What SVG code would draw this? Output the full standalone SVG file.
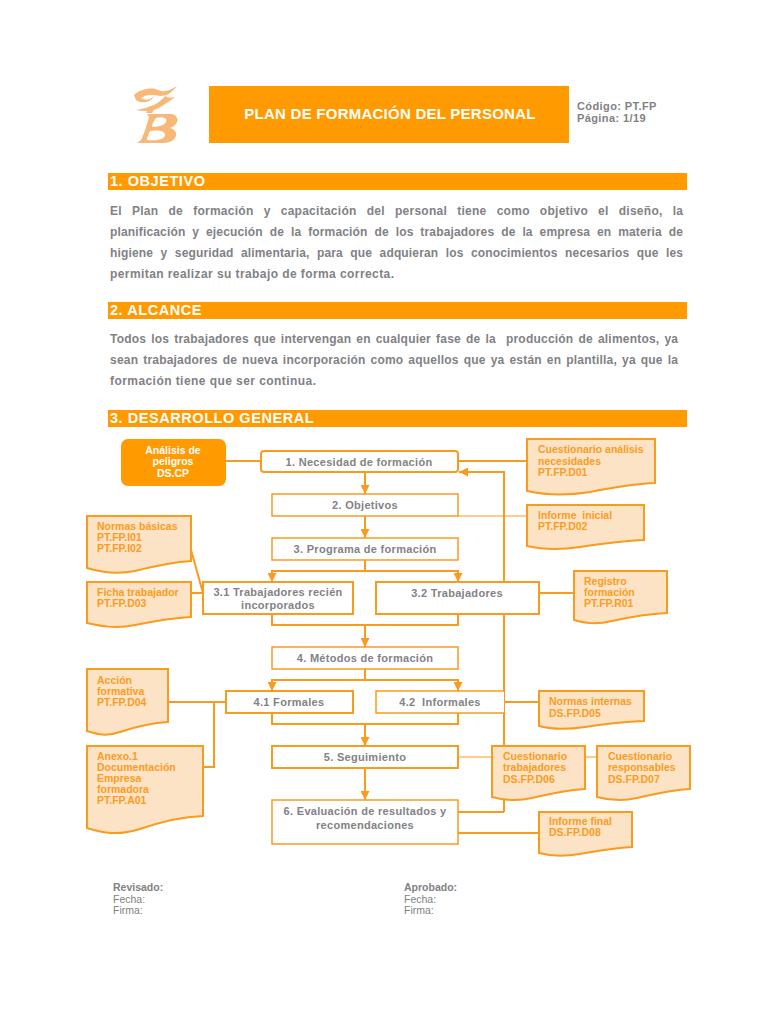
<svg xmlns="http://www.w3.org/2000/svg" width="768" height="1024" viewBox="0 0 768 1024">
<style>
text{font-family:"Liberation Sans",Arial,sans-serif;font-weight:bold}
.bar{fill:#ff9a00}
.h{fill:#fff;font-size:14.5px;letter-spacing:.55px}
.b{fill:#818184;font-size:12px}
.n{fill:#fff;stroke:#f99b1f;stroke-width:2}
.n1{fill:#fff;stroke:#f99b1f;stroke-width:1.5}
.t{fill:#828285;font-size:11px;text-anchor:middle;letter-spacing:.3px}
.d{fill:#fde3c5;stroke:#f99b1f;stroke-width:2}
.dt{fill:#fb9c22;font-size:10.5px}
.c{fill:none;stroke:#f99b1f;stroke-width:2}
.c1{fill:none;stroke:#f99b1f;stroke-width:1.2}
.f{fill:#818184;font-size:10.5px;font-weight:normal}
.logo{fill:#f7b878;fill-rule:evenodd}
</style>
<defs>
<marker id="a" markerWidth="10" markerHeight="9" refX="9" refY="4.5" orient="auto" markerUnits="userSpaceOnUse"><path d="M0 0L9 4.5L0 9Z" fill="#f99b1f"/></marker>
</defs>
<rect width="768" height="1024" fill="#fff"/>

<g id="logo">
<path class="logo" d="M134 95C140 89 152 87 158 90C165 93 170 90 177 86C172 92 168 96 160 96C150 94 145 95 141 98C146 101 150 100 154 96C150 103 142 104 136 100Z"/>
<path class="logo" d="M165 96C160 103 150 108 136 110C145 112 155 112 165 104C169 102 172 99 175 97C170 98 168 98 165 96Z"/>
<path class="logo" d="M150 106L146 113L152 113L156 106Z"/>
<path class="logo" d="M147 114H170C180 114 180 125 170 128C180 130 178 143 163 143H137L141 140C145 132 147 124 149 117ZM156 118C153 122 152 125 152 127C160 127 168 124 166 119C164 117 160 117 156 118ZM150 131C148 135 147 138 147 140C155 141 166 140 165 134C164 130 156 130 150 131Z"/>
</g>

<g id="title"><rect class="bar" x="209" y="86" width="360" height="57"/>
<text x="390" y="119" text-anchor="middle" fill="#fff" font-size="15" letter-spacing=".25">PLAN DE FORMACIÓN DEL PERSONAL</text></g>
<g id="code">
<text x="577" y="110" fill="#818184" font-size="11" letter-spacing=".4">Código: PT.FP</text>
<text x="577" y="122" fill="#818184" font-size="11" letter-spacing=".4">Página: 1/19</text></g>

<g id="s1"><rect class="bar" x="108" y="173" width="579" height="17"/><text class="h" x="110" y="186">1. OBJETIVO</text></g>
<text class="b" x="110" y="215" word-spacing="6.5" textLength="573">El Plan de formación y capacitación del personal tiene como objetivo el diseño, la</text>
<text class="b" x="110" y="236" word-spacing="3.4" textLength="573">planificación y ejecución de la formación de los trabajadores de la empresa en materia de</text>
<text class="b" x="110" y="257" word-spacing="4" textLength="573">higiene y seguridad alimentaria, para que adquieran los conocimientos necesarios que les</text>
<text class="b" x="110" y="278" textLength="284">permitan realizar su trabajo de forma correcta.</text>

<g id="s2"><rect class="bar" x="108" y="302" width="579" height="17"/><text class="h" x="110" y="315">2. ALCANCE</text></g>
<text class="b" x="110" y="343" word-spacing="1.5" textLength="568" xml:space="preserve">Todos los trabajadores que intervengan en cualquier fase de la  producción de alimentos, ya</text>
<text class="b" x="110" y="364" word-spacing="1.5" textLength="568">sean trabajadores de nueva incorporación como aquellos que ya están en plantilla, ya que la</text>
<text class="b" x="110" y="385" textLength="206">formación tiene que ser continua.</text>

<g id="s3"><rect class="bar" x="108" y="410" width="579" height="17"/><text class="h" x="110" y="423">3. DESARROLLO GENERAL</text></g>

<g id="connectors">
<path class="c" d="M226 461H260M458 461H527"/>
<path class="c1" d="M458 516H527"/>
<path class="c" d="M365 472V494" marker-end="url(#a)"/>
<path class="c" d="M365 516V538" marker-end="url(#a)"/>
<path class="c" d="M365 560V571"/>
<path class="c" d="M458 571H272V582" marker-end="url(#a)"/>
<path class="c" d="M365 571H458V582" marker-end="url(#a)"/>
<path class="c" d="M272 614V625H458V614"/>
<path class="c" d="M365 625V647" marker-end="url(#a)"/>
<path class="c" d="M365 669V680"/>
<path class="c" d="M458 680H272V691" marker-end="url(#a)"/>
<path class="c" d="M365 680H458V691" marker-end="url(#a)"/>
<path class="c" d="M272 713V724H458V713"/>
<path class="c" d="M365 724V746" marker-end="url(#a)"/>
<path class="c" d="M365 768V800" marker-end="url(#a)"/>
<path class="c" d="M504 812H458M504 812V472H459" marker-end="url(#a)"/>
<path class="c" d="M191 550L203 593M191 593H203M168 702H226M214 702V767H203"/>
<path class="c" d="M539 593H574M504 702H539M458 833H539"/>
<path class="c1" d="M458 757H492M585 757H597"/>
</g>

<g id="n0"><rect x="121" y="439" width="105" height="47" rx="7" fill="#ff9a00"/>
<text x="173" y="454" fill="#fff" font-size="10.5" text-anchor="middle">Análisis de</text><text x="173" y="465" fill="#fff" font-size="10.5" text-anchor="middle">peligros</text><text x="173" y="477" fill="#fff" font-size="10.5" text-anchor="middle">DS.CP</text></g>
<g id="n1"><rect class="n" x="261" y="451" width="197" height="21" rx="3"/><text class="t" x="359" y="466">1. Necesidad de formación</text></g>
<g id="n2"><rect class="n1" x="272" y="494" width="186" height="22"/><text class="t" x="365" y="509">2. Objetivos</text></g>
<g id="n3"><rect class="n1" x="272" y="538" width="186" height="22"/><text class="t" x="365" y="553">3. Programa de formación</text></g>
<g id="n31"><rect class="n" x="203" y="582" width="150" height="32"/><text class="t" x="278" y="596">3.1 Trabajadores recién</text><text class="t" x="278" y="609">incorporados</text></g>
<g id="n32"><rect class="n" x="376" y="582" width="163" height="32"/><text class="t" x="457" y="597">3.2 Trabajadores</text></g>
<g id="n4"><rect class="n1" x="272" y="647" width="186" height="22"/><text class="t" x="365" y="662">4. Métodos de formación</text></g>
<g id="n41"><rect class="n" x="226" y="691" width="127" height="22"/><text class="t" x="289" y="706">4.1 Formales</text></g>
<g id="n42"><path class="n1" d="M504 691H376V713H504"/><text class="t" x="440" y="706" xml:space="preserve">4.2  Informales</text></g>
<g id="n5"><rect class="n" x="272" y="746" width="186" height="22"/><text class="t" x="365" y="761">5. Seguimiento</text></g>
<g id="n6"><rect class="n1" x="272" y="800" width="186" height="44"/><text class="t" x="365" y="815">6. Evaluación de resultados y</text><text class="t" x="365" y="829">recomendaciones</text></g>

<g id="d1"><path class="d" d="M87 516H191V561C172 562 155 566 135 571C115 575 100 572 87 568Z"/><text class="dt" x="97" y="530">Normas básicas</text><text class="dt" x="97" y="541">PT.FP.I01</text><text class="dt" x="97" y="552">PT.FP.I02</text></g>
<g id="d2"><path class="d" d="M87 582H191V617C172 618 155 621 135 625C115 629 100 626 87 623Z"/><text class="dt" x="97" y="596">Ficha trabajador</text><text class="dt" x="97" y="607">PT.FP.D03</text></g>
<g id="d3"><path class="d" d="M87 669H168V722C150 723 135 727 120 732C105 737 97 734 87 731Z"/><text class="dt" x="97" y="684">Acción</text><text class="dt" x="97" y="695">formativa</text><text class="dt" x="97" y="706">PT.FP.D04</text></g>
<g id="d4"><path class="d" d="M87 746H203V816C178 817 160 822 140 829C118 836 103 833 87 828Z"/><text class="dt" x="97" y="760">Anexo.1</text><text class="dt" x="97" y="771">Documentación</text><text class="dt" x="97" y="782">Empresa</text><text class="dt" x="97" y="793">formadora</text><text class="dt" x="97" y="804">PT.FP.A01</text></g>
<g id="d5"><path class="d" d="M527 439H655V483C630 484 610 488 590 492C565 496 545 495 527 491Z"/><text class="dt" x="538" y="453">Cuestionario análisis</text><text class="dt" x="538" y="465">necesidades</text><text class="dt" x="538" y="476">PT.FP.D01</text></g>
<g id="d6"><path class="d" d="M527 505H644V540C620 541 600 544 580 547C560 550 540 549 527 546Z"/><text class="dt" x="538" y="519" xml:space="preserve">Informe  inicial</text><text class="dt" x="538" y="530">PT.FP.D02</text></g>
<g id="d7"><path class="d" d="M574 571H667V613C645 614 630 617 612 621C595 625 585 623 574 620Z"/><text class="dt" x="584" y="585">Registro</text><text class="dt" x="584" y="596">formación</text><text class="dt" x="584" y="607">PT.FP.R01</text></g>
<g id="d8"><path class="d" d="M539 691H644V721C622 722 605 724 585 727C565 730 550 729 539 726Z"/><text class="dt" x="549" y="705">Normas internas</text><text class="dt" x="549" y="717">DS.FP.D05</text></g>
<g id="d9"><path class="d" d="M492 746H585V789C565 790 550 794 532 798C515 802 503 800 492 797Z"/><text class="dt" x="503" y="760">Cuestionario</text><text class="dt" x="503" y="771">trabajadores</text><text class="dt" x="503" y="783">DS.FP.D06</text></g>
<g id="d10"><path class="d" d="M597 746H690V789C670 790 655 794 637 798C620 802 608 800 597 797Z"/><text class="dt" x="608" y="760">Cuestionario</text><text class="dt" x="608" y="771">responsables</text><text class="dt" x="608" y="783">DS.FP.D07</text></g>
<g id="d11"><path class="d" d="M539 812H632V847C612 848 597 851 580 854C562 857 550 856 539 853Z"/><text class="dt" x="549" y="825">Informe final</text><text class="dt" x="549" y="836">DS.FP.D08</text></g>

<g id="signatures">
<text class="f" x="113" y="891" style="font-weight:bold">Revisado:</text><text class="f" x="113" y="903">Fecha:</text><text class="f" x="113" y="914">Firma:</text>
<text class="f" x="404" y="891" style="font-weight:bold">Aprobado:</text><text class="f" x="404" y="903">Fecha:</text><text class="f" x="404" y="914">Firma:</text>
</g>
</svg>
